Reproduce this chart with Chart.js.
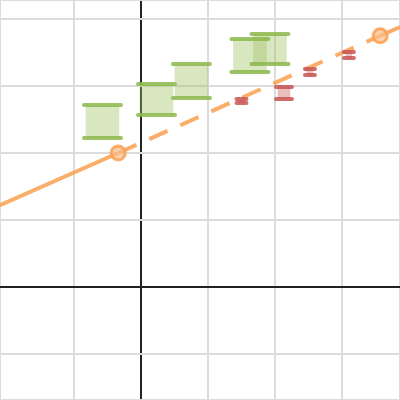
<!DOCTYPE html>
<html>
<head>
<style>body{margin:0;background:#fff}canvas{display:block}</style>
<script src="https://cdn.jsdelivr.net/npm/chart.js@4"></script>
</head>
<body>
<canvas id="c" width="400" height="400"></canvas>
<script>
"use strict";

// line through the points (solid ends, dashed middle)
const lineX = [-2.104, -0.34, 3.57, 3.866];
const lineY = [1.22, 2.0, 3.75, 3.88];

// green boxes: centre x, bottom, top
const boxX = [-0.082, 0.724, 1.246, 2.119, 2.418];
const boxLow = [2.224, 2.567, 2.821, 3.209, 3.328];
const boxHigh = [2.716, 3.03, 3.328, 3.701, 3.776];

// small red marks
const redX = [1.5, 2.522, 3.104];
const redLow = [2.746, 3.164, 3.418];
const redHigh = [2.806, 3.254, 3.507];
const redWideX = [1.955];
const redWideLow = [2.806];
const redWideHigh = [2.985];

const toBars = (xs, lo, hi) => xs.map((x, i) => ({ x: x, y: [lo[i], hi[i]] }));

// Draw the caps on top and bottom of each floating bar
const capsPlugin = {
  id: "caps",
  afterDatasetsDraw(chart) {
    const ctx = chart.ctx;
    chart.data.datasets.forEach((ds, di) => {
      if (!ds.capColor) return;
      chart.getDatasetMeta(di).data.forEach((bar) => {
        const half = bar.width / 2 + 2;
        ctx.save();
        ctx.strokeStyle = ds.capColor;
        ctx.lineWidth = 4;
        ctx.lineCap = "round";
        [bar.y, bar.base].forEach((yy) => {
          ctx.beginPath();
          ctx.moveTo(bar.x - half, yy);
          ctx.lineTo(bar.x + half, yy);
          ctx.stroke();
        });
        ctx.restore();
      });
    });
  },
};

const gridColor = (c) => (c.tick && c.tick.value === 0 ? "#222" : "#dcdcdc");

const ctx = document.getElementById("c").getContext("2d");
new Chart(ctx, {
  data: {
    datasets: [
      {
        type: "bar",
        data: toBars(boxX, boxLow, boxHigh),
        backgroundColor: "rgba(160,195,100,0.4)",
        capColor: "rgba(140,185,75,0.85)",
        barThickness: 33,
        borderWidth: 0,
      },
      {
        type: "bar",
        data: toBars(redX, redLow, redHigh),
        backgroundColor: "rgba(205,90,90,0.4)",
        capColor: "rgba(200,85,85,0.85)",
        barThickness: 6,
        borderWidth: 0,
      },
      {
        type: "bar",
        data: toBars(redWideX, redWideLow, redWideHigh),
        backgroundColor: "rgba(205,90,90,0.4)",
        capColor: "rgba(200,85,85,0.85)",
        barThickness: 12,
        borderWidth: 0,
      },
      {
        type: "line",
        data: lineX.map((x, i) => ({ x: x, y: lineY[i] })),
        borderColor: "rgba(250,160,80,0.85)",
        borderWidth: 4,
        segment: {
          borderDash: (c) => (c.p0DataIndex === 1 ? [20, 14] : undefined),
        },
        pointRadius: [0, 7, 7, 0],
        pointBorderWidth: 3,
        pointBorderColor: "rgba(250,160,80,0.85)",
        pointBackgroundColor: "rgba(250,190,140,0.7)",
      },
    ],
  },
  options: {
    responsive: false,
    animation: false,
    layout: { padding: 0 },
    plugins: { legend: { display: false }, tooltip: { enabled: false } },
    scales: {
      x: {
        type: "linear",
        offset: false,
        min: -2.104,
        max: 3.866,
        ticks: { display: false, stepSize: 1 },
        border: { display: false },
        grid: { offset: false, drawTicks: false, lineWidth: 2, color: gridColor },
      },
      y: {
        type: "linear",
        min: -1.687,
        max: 4.284,
        ticks: { display: false, stepSize: 1 },
        border: { display: false },
        grid: { drawTicks: false, lineWidth: 2, color: gridColor },
      },
    },
  },
  plugins: [capsPlugin],
});
</script>
</body>
</html>
